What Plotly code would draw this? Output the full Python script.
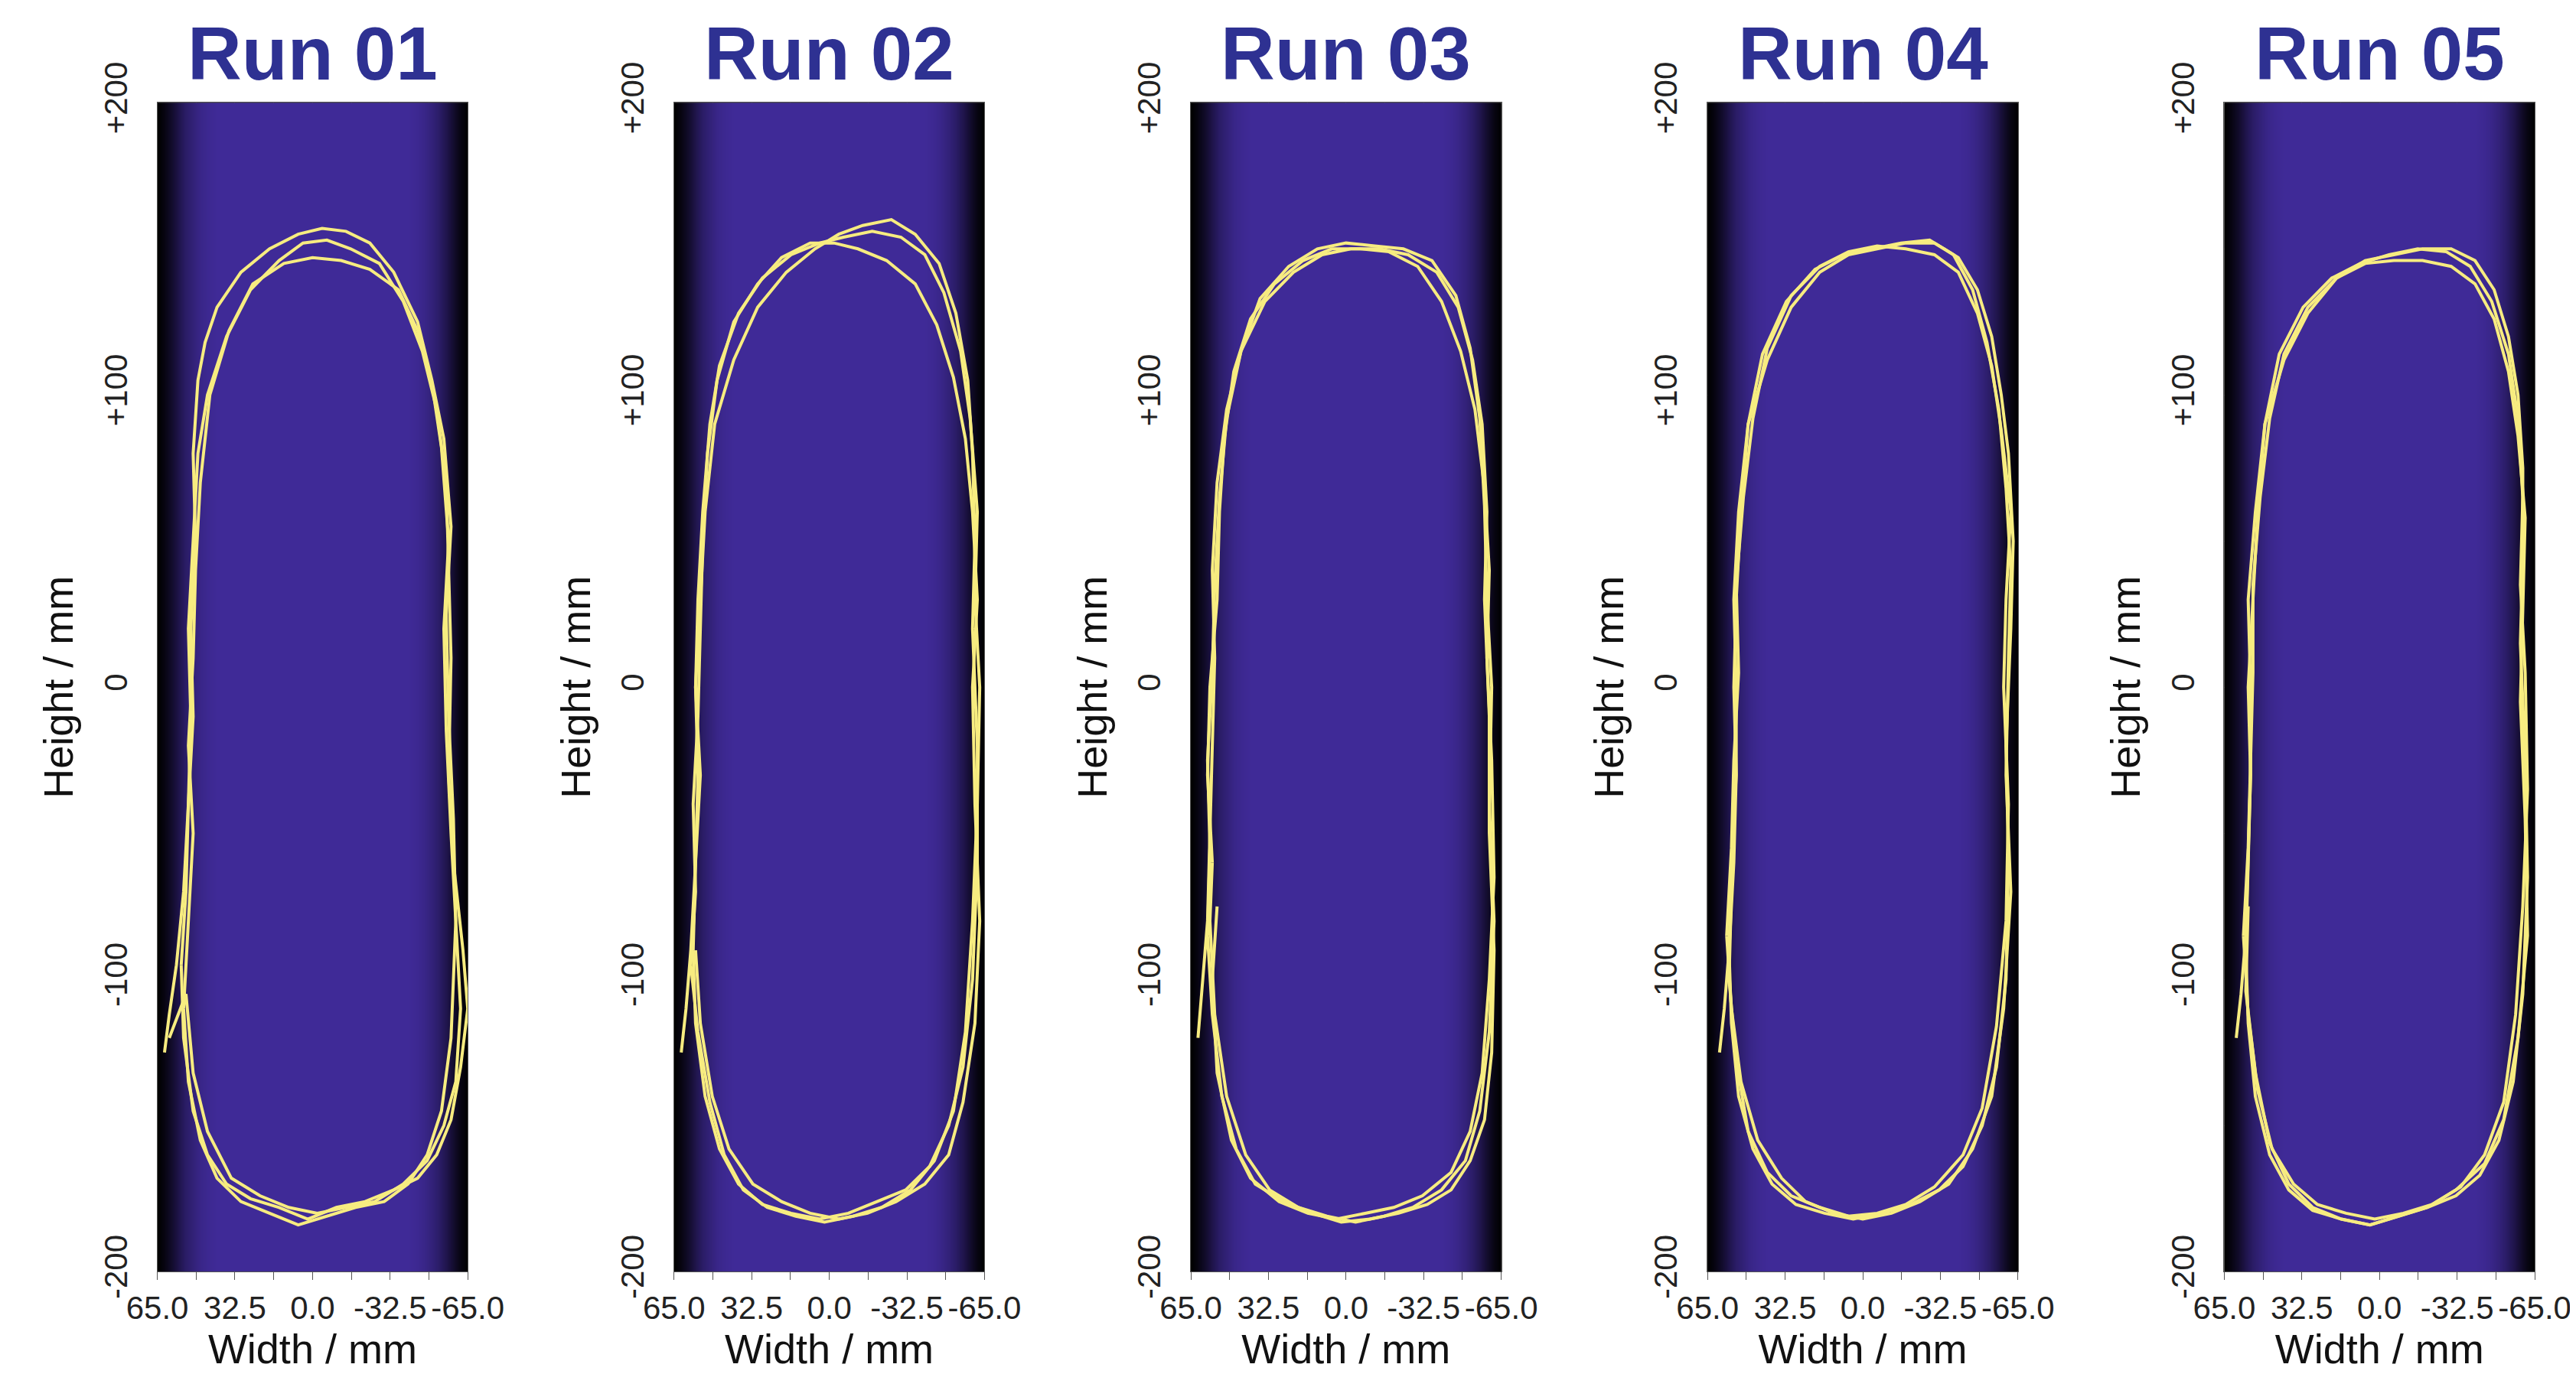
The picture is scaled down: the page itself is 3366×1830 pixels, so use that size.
import plotly.graph_objects as go

# Run titles
RUNS = ["Run 01", "Run 02", "Run 03", "Run 04", "Run 05"]

# background brightness profile across the width (0 = black edge, 1 = full purple)
BG_X = [-65, -62, -59, -56, -53, -50, -47, -44, -40, 0, 40, 44, 47, 50, 53, 56, 59, 62, 65]
BG_Z = [0.0, 0.12, 0.3, 0.5, 0.68, 0.8, 0.9, 0.96, 1.0, 1.0, 1.0, 0.96, 0.9, 0.8, 0.68, 0.5, 0.3, 0.12, 0.0]
BG_Y = [-200, 200]

X_TICKS = [65, 48.75, 32.5, 16.25, 0, -16.25, -32.5, -48.75, -65]
X_TEXT = ["65.0", "", "32.5", "", "0.0", "", "-32.5", "", "-65.0"]
Y_TICKS = [-200, -150, -100, -50, 0, 50, 100, 150, 200]
Y_TEXT = ["-200", "", "-100", "", "0", "", "+100", "", "+200"]

# traced laps (width mm, height mm), three laps per run
RUN01_X = [
    [62, 60, 57, 54, 52, 51, 52, 50, 48, 44, 36, 26, 14, 4, -6, -16, -28, -38, -46, -52, -56, -57, -58, -57, -59, -63, -65, -62, -58, -52, -44, -34, -22, -10, 2, 14, 26, 36, 44, 50, 54, 55],
    [55, 53, 52, 50, 51, 49, 50, 48, 45, 40, 30, 18, 6, -4, -14, -24, -34, -44, -50, -55, -58, -56, -57, -59, -60, -58, -54, -48, -40, -30, -18, -6, 6, 18, 30, 40, 47, 52, 54],
    [54, 52, 50, 52, 50, 49, 47, 43, 35, 25, 12, 0, -12, -24, -36, -44, -50, -54, -57, -55, -56, -58, -60, -62, -60, -55, -48, -38, -26, -14, -2, 10, 22, 34, 44, 50, 53, 60],
]
RUN01_Y = [
    [-125, -112, -95, -70, -40, -10, 20, 50, 80, 100, 120, 136, 146, 152, 153, 150, 145, 132, 115, 95, 70, 40, 10, -30, -60, -90, -110, -130, -148, -160, -168, -172, -176, -178, -182, -178, -175, -170, -160, -145, -120, -95],
    [-95, -70, -40, -10, 20, 50, 80, 105, 118, 130, 142, 150, 155, 157, 156, 152, 142, 125, 105, 85, 55, 25, -10, -45, -80, -120, -145, -160, -170, -176, -178, -181, -184, -180, -176, -168, -155, -135, -110],
    [-110, -80, -50, -20, 10, 40, 70, 100, 122, 138, 145, 147, 146, 143, 136, 122, 104, 82, 50, 20, -15, -50, -80, -110, -135, -150, -162, -170, -176, -178, -180, -178, -174, -168, -152, -132, -105, -120],
]
RUN02_X = [
    [62, 60, 58, 56, 55, 56, 54, 52, 48, 40, 30, 18, 6, -4, -14, -26, -36, -46, -53, -58, -60, -61, -60, -62, -62, -60, -56, -50, -42, -32, -20, -8, 4, 16, 28, 38, 46, 52, 56, 57],
    [57, 56, 54, 56, 55, 53, 50, 46, 38, 28, 16, 4, -6, -18, -30, -40, -48, -55, -59, -62, -61, -63, -62, -60, -57, -52, -44, -34, -22, -10, 2, 14, 26, 36, 44, 50, 55, 58],
    [58, 56, 57, 55, 54, 53, 51, 47, 40, 30, 20, 8, -2, -12, -24, -36, -45, -52, -57, -60, -62, -60, -61, -63, -61, -56, -50, -40, -28, -16, -4, 8, 20, 32, 42, 49, 54, 56],
]
RUN02_Y = [
    [-125, -110, -90, -60, -30, 0, 30, 60, 90, 112, 130, 142, 150, 155, 158, 160, 155, 145, 128, 105, 80, 50, 20, -20, -60, -100, -130, -150, -164, -172, -176, -180, -182, -180, -177, -170, -158, -140, -115, -90],
    [-90, -60, -30, 0, 30, 60, 90, 110, 128, 140, 148, 152, 154, 156, 154, 148, 135, 115, 92, 60, 30, 0, -40, -80, -118, -145, -162, -172, -178, -181, -183, -181, -178, -172, -160, -142, -118, -95],
    [-95, -70, -40, -10, 20, 50, 80, 105, 125, 138, 147, 152, 152, 150, 146, 138, 124, 106, 85, 60, 30, 0, -40, -80, -115, -142, -160, -170, -176, -180, -182, -180, -176, -170, -158, -140, -115, -90],
]
RUN03_X = [
    [62, 60, 58, 57, 56, 55, 56, 54, 50, 44, 34, 22, 10, -2, -14, -26, -38, -47, -53, -57, -59, -58, -60, -60, -62, -61, -58, -52, -44, -34, -22, -10, 2, 14, 26, 38, 46, 52, 56, 58],
    [58, 57, 58, 56, 55, 53, 50, 44, 36, 24, 12, 0, -12, -24, -36, -46, -52, -56, -58, -59, -61, -60, -62, -60, -56, -50, -40, -28, -16, -4, 8, 20, 32, 42, 50, 55, 57, 56],
    [56, 58, 57, 54, 53, 51, 47, 40, 30, 18, 6, -6, -18, -30, -40, -48, -54, -58, -60, -59, -61, -62, -60, -57, -52, -44, -32, -20, -8, 4, 16, 28, 40, 48, 54, 56, 54],
]
RUN03_Y = [
    [-120, -100, -80, -50, -20, 10, 40, 70, 95, 115, 132, 142, 148, 150, 150, 148, 142, 130, 112, 90, 60, 30, -10, -50, -90, -125, -148, -162, -172, -177, -180, -182, -183, -180, -176, -170, -158, -140, -112, -85],
    [-85, -55, -25, 5, 35, 65, 92, 115, 133, 144, 150, 152, 151, 150, 146, 134, 116, 92, 62, 30, 0, -40, -80, -118, -145, -162, -172, -178, -181, -183, -181, -178, -172, -160, -140, -112, -80, -60],
    [-60, -30, 0, 30, 60, 85, 108, 126, 138, 146, 150, 150, 149, 144, 132, 115, 95, 68, 40, 10, -25, -65, -100, -132, -152, -166, -174, -178, -180, -182, -180, -176, -168, -155, -132, -100, -75],
]
RUN04_X = [
    [60, 58, 56, 54, 53, 53, 54, 52, 48, 40, 30, 18, 6, -6, -18, -30, -40, -48, -54, -58, -61, -63, -62, -60, -61, -60, -56, -50, -42, -32, -20, -8, 4, 16, 28, 38, 46, 52, 55, 56],
    [56, 55, 53, 54, 53, 51, 48, 42, 32, 20, 8, -4, -16, -28, -38, -46, -52, -57, -60, -62, -61, -60, -62, -59, -54, -46, -36, -24, -12, 0, 12, 24, 34, 44, 51, 55, 57],
    [57, 55, 54, 52, 53, 50, 46, 40, 30, 18, 6, -6, -18, -30, -40, -48, -54, -58, -62, -60, -59, -61, -60, -56, -50, -42, -30, -18, -6, 6, 18, 30, 40, 48, 53, 56, 55],
]
RUN04_Y = [
    [-125, -110, -90, -60, -30, 0, 30, 60, 90, 112, 130, 142, 148, 150, 152, 152, 147, 136, 120, 100, 80, 50, 20, -20, -60, -100, -130, -150, -164, -172, -177, -180, -182, -180, -177, -170, -158, -140, -115, -90],
    [-90, -60, -30, 0, 30, 60, 90, 114, 132, 143, 148, 150, 152, 153, 148, 136, 118, 95, 68, 40, 10, -30, -70, -110, -140, -158, -170, -176, -180, -182, -180, -176, -168, -155, -135, -110, -85],
    [-85, -55, -25, 5, 35, 65, 92, 116, 134, 144, 149, 151, 150, 148, 142, 128, 110, 88, 60, 30, 0, -40, -80, -116, -144, -160, -171, -177, -180, -181, -178, -174, -166, -152, -128, -100, -70],
]
RUN05_X = [
    [60, 58, 56, 55, 54, 54, 55, 52, 48, 40, 30, 18, 6, -6, -18, -30, -40, -48, -54, -58, -60, -60, -59, -61, -62, -60, -56, -50, -42, -32, -20, -8, 4, 16, 28, 38, 46, 52, 55, 56],
    [56, 55, 54, 55, 53, 51, 48, 42, 32, 20, 8, -4, -16, -28, -38, -47, -54, -58, -60, -59, -61, -62, -60, -57, -52, -44, -34, -22, -10, 2, 14, 26, 36, 45, 51, 55, 57],
    [57, 55, 54, 53, 53, 50, 46, 40, 30, 18, 6, -6, -18, -30, -40, -48, -54, -58, -61, -60, -59, -61, -62, -58, -52, -44, -32, -20, -8, 4, 16, 28, 38, 46, 52, 56, 55],
]
RUN05_Y = [
    [-120, -105, -85, -60, -30, 0, 30, 60, 90, 112, 128, 140, 146, 148, 150, 150, 146, 136, 120, 100, 75, 45, 15, -25, -65, -105, -135, -155, -167, -174, -178, -181, -184, -182, -179, -172, -160, -140, -115, -90],
    [-90, -60, -30, 0, 30, 60, 90, 114, 130, 140, 145, 148, 150, 149, 144, 132, 114, 92, 65, 35, 5, -35, -75, -112, -142, -160, -171, -177, -180, -182, -180, -177, -170, -158, -138, -112, -85],
    [-85, -55, -25, 5, 35, 65, 92, 114, 130, 140, 145, 146, 146, 144, 138, 126, 108, 86, 58, 28, -5, -45, -85, -120, -148, -163, -172, -178, -181, -184, -182, -178, -170, -156, -132, -104, -75],
]

RUN_X = [RUN01_X, RUN02_X, RUN03_X, RUN04_X, RUN05_X]
RUN_Y = [RUN01_Y, RUN02_Y, RUN03_Y, RUN04_Y, RUN05_Y]

TITLE_COLOR = "#2E3192"
LINE_COLOR = "#F7EC80"
FONT = "Liberation Sans, Arial, sans-serif"

fig = go.Figure()
left0, step, width = 0.0587, 0.2006, 0.1205
ybot, ytop = 0.096, 0.931

for i, name in enumerate(RUNS):
    n = "" if i == 0 else str(i + 1)
    xa, ya = "x" + n, "y" + n
    x0 = left0 + i * step
    fig.add_trace(go.Heatmap(
        x=BG_X, y=BG_Y, z=[BG_Z, BG_Z], zsmooth="best", showscale=False,
        colorscale=[[0, "#000000"], [1, "#3F2A97"]], zmin=0, zmax=1,
        hoverinfo="skip", xaxis=xa, yaxis=ya,
    ))
    for lx, ly in zip(RUN_X[i], RUN_Y[i]):
        fig.add_trace(go.Scatter(
            x=lx, y=ly, mode="lines", line=dict(color=LINE_COLOR, width=4),
            showlegend=False, xaxis=xa, yaxis=ya,
        ))
    fig.layout["xaxis" + n] = dict(
        domain=[x0, x0 + width], range=[65, -65], anchor=ya, automargin=False,
        tickvals=X_TICKS, ticktext=X_TEXT, ticks="outside", ticklen=10, tickangle=0,
        tickcolor="#555", showline=True, linecolor="#555", mirror=True,
        showgrid=True, gridcolor="rgba(255,255,255,0.12)", zeroline=False,
        tickfont=dict(size=42, color="#222", family=FONT),
        title=dict(text="Width / mm", font=dict(size=54, color="#111", family=FONT), standoff=4),
    )
    fig.layout["yaxis" + n] = dict(
        domain=[ybot, ytop], range=[-200, 200], anchor=xa, automargin=False,
        tickvals=Y_TICKS, ticktext=Y_TEXT, tickangle=-90, ticks="",
        ticklabelstandoff=22, showline=True, linecolor="#555", mirror=True,
        showgrid=True, gridcolor="rgba(255,255,255,0.12)", zeroline=False,
        tickfont=dict(size=42, color="#222", family=FONT),
        title=dict(text="Height / mm", font=dict(size=54, color="#111", family=FONT), standoff=14),
    )
    fig.add_annotation(
        text="<b>" + name + "</b>", x=x0 + width / 2, y=0.935, xref="paper", yref="paper",
        xanchor="center", yanchor="bottom", showarrow=False,
        font=dict(size=98, color=TITLE_COLOR, family=FONT),
    )

fig.update_layout(
    width=3366, height=1830, margin=dict(l=0, r=0, t=0, b=0),
    paper_bgcolor="white", plot_bgcolor="black", showlegend=False,
)
fig.write_html("out.html")
